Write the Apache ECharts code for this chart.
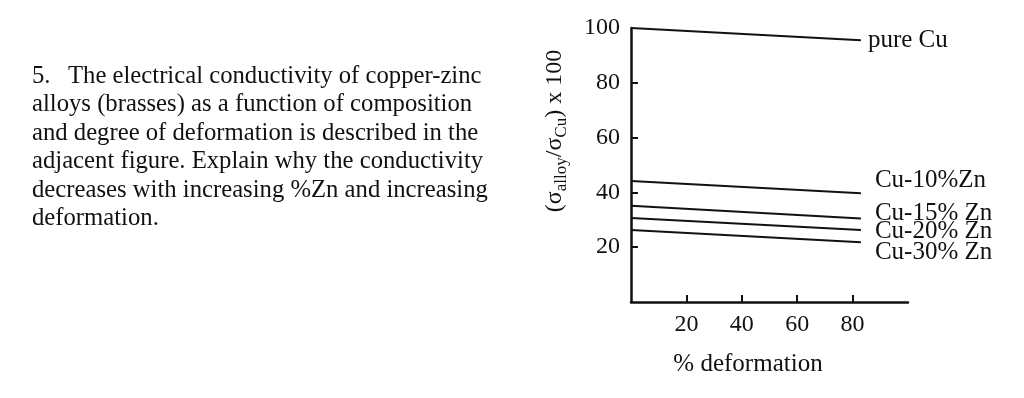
<!DOCTYPE html>
<html>
<head>
<meta charset="utf-8">
<script src="https://cdn.jsdelivr.net/npm/echarts@6/dist/echarts.min.js"></script>
<style>html,body{margin:0;padding:0;background:#fff;}#c{width:1024px;height:398px;}</style>
</head>
<body>
<div id="c"></div>
<script>
const deformation = [0, 83];
const seriesNames = ['pure Cu', 'Cu-10%Zn', 'Cu-15% Zn', 'Cu-20% Zn', 'Cu-30% Zn'];
const pureCu = [100, 95.5];
const cu10 = [44.2, 39.7];
const cu15 = [35.1, 30.5];
const cu20 = [30.7, 26.3];
const cu30 = [26.3, 21.8];
const xTicks = [20, 40, 60, 80];
const yTicks = [20, 40, 60, 80];
const yLabels = [20, 40, 60, 80, 100];
const questionLines = [
  'The electrical conductivity of copper-zinc',
  'alloys (brasses) as a function of composition',
  'and degree of deformation is described in the',
  'adjacent figure. Explain why the conductivity',
  'decreases with increasing %Zn and increasing',
  'deformation.'
];
const questionNumber = '5.';

const FONT = '"Liberation Serif", "DejaVu Serif", serif';
const INK = '#111';
const allValues = [pureCu, cu10, cu15, cu20, cu30];
const labelOffsets = [[7, 0], [14, -13], [14, -5], [14, 1], [14, 10]];

const chart = echarts.init(document.getElementById('c'));
const graphics = [{
  type: 'text', left: 32, top: 64,
  style: { text: questionNumber, font: '24.7px ' + FONT, fill: INK }
}];
questionLines.forEach((t, i) => {
  graphics.push({
    type: 'text', left: i === 0 ? 68 : 32, top: 64 + i * 28.4,
    style: { text: t, font: '24.7px ' + FONT, fill: INK }
  });
});

chart.setOption({
  animation: false,
  backgroundColor: '#fff',
  grid: { left: 631, right: 116, top: 28, bottom: 96, containLabel: false },
  xAxis: {
    type: 'value', min: 0, max: 100, interval: 20,
    name: '% deformation', nameLocation: 'middle', nameGap: 50,
    nameTextStyle: { fontFamily: FONT, fontSize: 25, color: INK, padding: [0, 43, 0, 0] },
    axisLine: { show: true, lineStyle: { color: INK, width: 2.5 } },
    axisTick: { show: true, inside: true, length: 7, customValues: xTicks, lineStyle: { color: INK, width: 2 } },
    axisLabel: { customValues: xTicks, fontFamily: FONT, fontSize: 24, color: INK, margin: 11 },
    splitLine: { show: false }
  },
  yAxis: {
    type: 'value', min: 0, max: 100, interval: 20,
    name: '{a|(σ}{s|alloy}{a|/σ}{s|Cu}{a|) x 100}',
    nameLocation: 'middle', nameGap: 61, nameRotate: 90,
    nameTextStyle: {
      padding: [0, 0, 0, 68],
      rich: {
        a: { fontFamily: FONT, fontSize: 24, color: INK, lineHeight: 30, verticalAlign: 'middle' },
        s: { fontFamily: FONT, fontSize: 17, color: INK, lineHeight: 30, verticalAlign: 'bottom', padding: [10, 0, 0, 0] }
      }
    },
    axisLine: { show: true, lineStyle: { color: INK, width: 2.5 } },
    axisTick: { show: true, inside: true, length: 7, customValues: yTicks, lineStyle: { color: INK, width: 2 } },
    axisLabel: { customValues: yLabels, fontFamily: FONT, fontSize: 24, color: INK, margin: 11 },
    splitLine: { show: false }
  },
  graphic: graphics,
  series: seriesNames.map((n, i) => ({
    type: 'line', name: n,
    data: deformation.map((x, j) => [x, allValues[i][j]]),
    symbol: 'none', silent: true,
    lineStyle: { color: INK, width: 2 },
    endLabel: {
      show: true, formatter: '{a}', distance: 0, offset: labelOffsets[i],
      fontFamily: FONT, fontSize: 25, color: INK
    }
  }))
});
</script>
</body>
</html>
